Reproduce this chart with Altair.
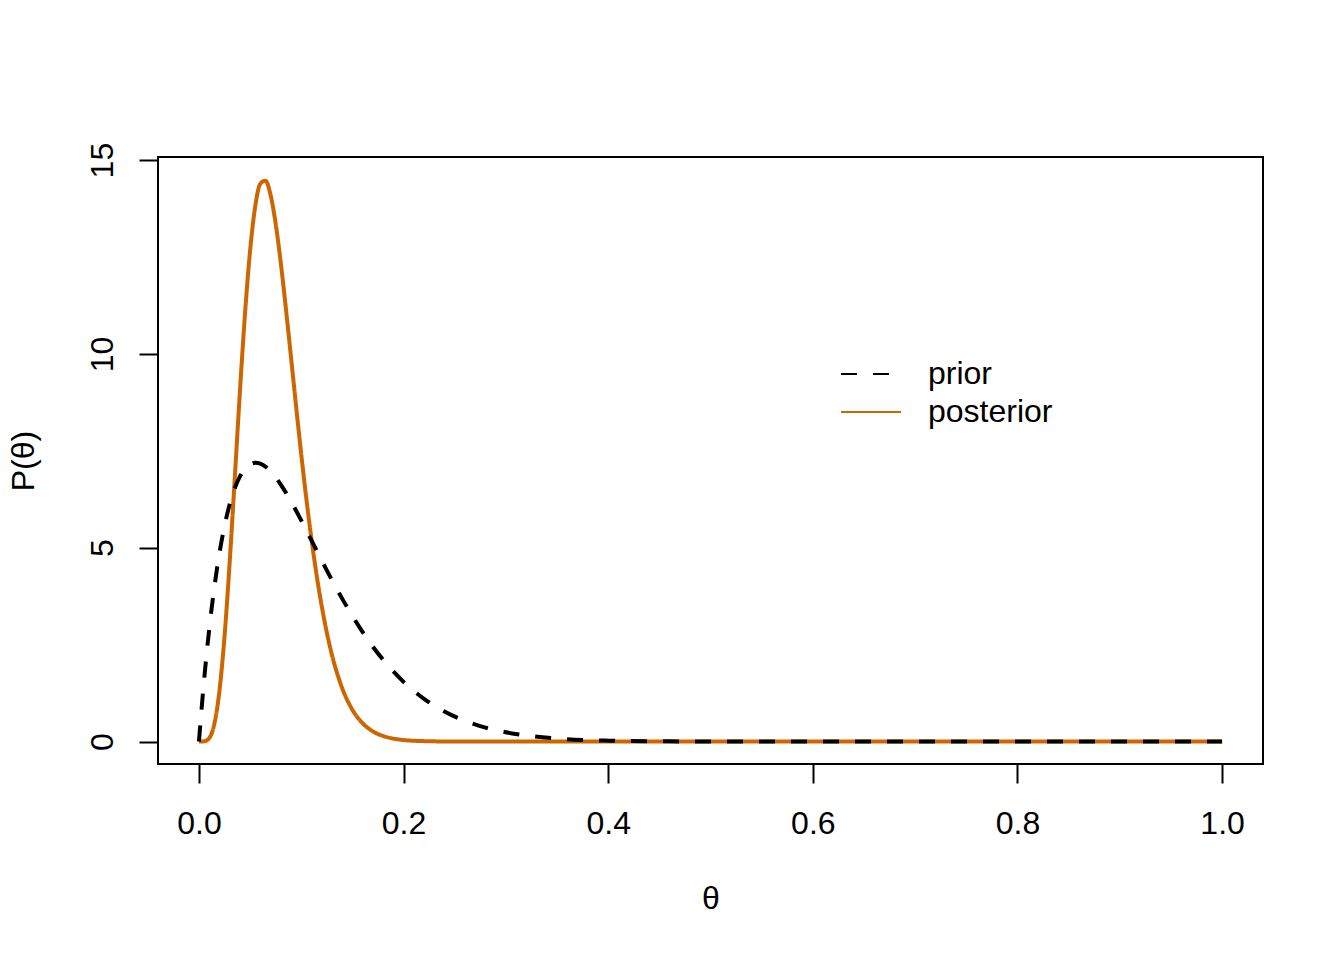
import altair as alt
import pandas as pd

# theta grid and densities
theta = [0.0, 0.005, 0.01, 0.015, 0.02, 0.025, 0.03, 0.035, 0.04, 0.045,
         0.05, 0.055, 0.06, 0.065, 0.07, 0.075, 0.08, 0.085, 0.09, 0.095,
         0.10, 0.105, 0.11, 0.115, 0.12, 0.125, 0.13, 0.14, 0.15, 0.16,
         0.17, 0.18, 0.19, 0.20, 0.22, 0.24, 0.26, 0.28, 0.30, 0.35,
         0.40, 0.45, 0.50, 0.60, 0.70, 0.80, 0.90, 1.0]

prior = [0.0, 1.570, 2.883, 3.968, 4.852, 5.559, 6.113, 6.532, 6.834, 7.036,
         7.150, 7.190, 7.167, 7.091, 6.972, 6.816, 6.630, 6.422, 6.194, 5.954,
         5.704, 5.448, 5.189, 4.928, 4.672, 4.416, 4.167, 3.687, 3.238, 2.824,
         2.448, 2.109, 1.807, 1.540, 1.102, 0.773, 0.532, 0.360, 0.239, 0.079,
         0.023, 0.006, 0.001, 0.0, 0.0, 0.0, 0.0, 0.0]

posterior = [0.0, 0.004, 0.086, 0.447, 1.294, 2.704, 4.599, 6.782, 9.001, 11.02,
             12.66, 13.80, 14.39, 14.47, 14.10, 13.36, 12.35, 11.17, 9.914, 8.641,
             7.411, 6.263, 5.221, 4.298, 3.496, 2.813, 2.239, 1.379, 0.819, 0.471,
             0.263, 0.143, 0.075, 0.039, 0.010, 0.002, 0.0005, 0.0001, 0.0, 0.0,
             0.0, 0.0, 0.0, 0.0, 0.0, 0.0, 0.0, 0.0]

series = ["prior", "posterior"]
x_ticks = [0.0, 0.2, 0.4, 0.6, 0.8, 1.0]
y_ticks = [0, 5, 10, 15]

FONT = "Liberation Sans"
ORANGE = "#CD6600"

# posterior first so the dashed prior is drawn on top of it
df = pd.concat([
    pd.DataFrame({"theta": theta, "density": posterior, "series": "posterior"}),
    pd.DataFrame({"theta": theta, "density": prior, "series": "prior"}),
], ignore_index=True)

legend = alt.Legend(
    title=None, orient="none", legendX=682, legendY=198,
    symbolType="stroke", symbolSize=3600, symbolStrokeWidth=2,
    labelFont=FONT, labelFontSize=32, labelColor="black",
    labelOffset=26, rowPadding=0, clipHeight=38, padding=0,
)

chart = (
    alt.Chart(df)
    .mark_line(strokeWidth=4, interpolate="monotone")
    .encode(
        x=alt.X("theta:Q",
                scale=alt.Scale(domain=[-0.04, 1.04], nice=False, zero=False),
                axis=alt.Axis(values=x_ticks, format=".1f", title="θ",
                              labelBaseline="alphabetic", labelPadding=50,
                              titleX=552.5, titleY=134, titleAlign="center",
                              titleBaseline="middle")),
        y=alt.Y("density:Q",
                scale=alt.Scale(domain=[-0.58, 15.08], nice=False, zero=False),
                axis=alt.Axis(values=y_ticks, format="d", title="P(θ)",
                              labelAngle=-90, labelAlign="center",
                              labelBaseline="alphabetic", labelPadding=27,
                              titleAngle=-90, titleX=-135, titleY=303.5,
                              titleAlign="center", titleBaseline="middle")),
        color=alt.Color("series:N",
                        scale=alt.Scale(domain=series, range=["black", ORANGE]),
                        legend=legend),
        strokeDash=alt.StrokeDash("series:N",
                                  scale=alt.Scale(domain=series,
                                                  range=[[16, 16], [1, 0]]),
                                  legend=legend),
    )
    .properties(
        width=1105, height=607,
        autosize=alt.AutoSizeParams(type="none"),
        padding={"left": 150, "top": 149, "right": 73, "bottom": 188},
        background="white",
    )
    .configure_view(stroke="black", strokeWidth=2)
    .configure_axis(
        domain=False, grid=False,
        tickColor="black", tickWidth=2, tickSize=19,
        labelFont=FONT, labelFontSize=32, labelColor="black",
        labelFlush=False, labelOverlap=False, labelBound=False,
        titleFont=FONT, titleFontSize=32, titleFontWeight="normal",
        titleColor="black",
    )
)

chart.save("out.html", embed_options={"renderer": "svg", "actions": False})
